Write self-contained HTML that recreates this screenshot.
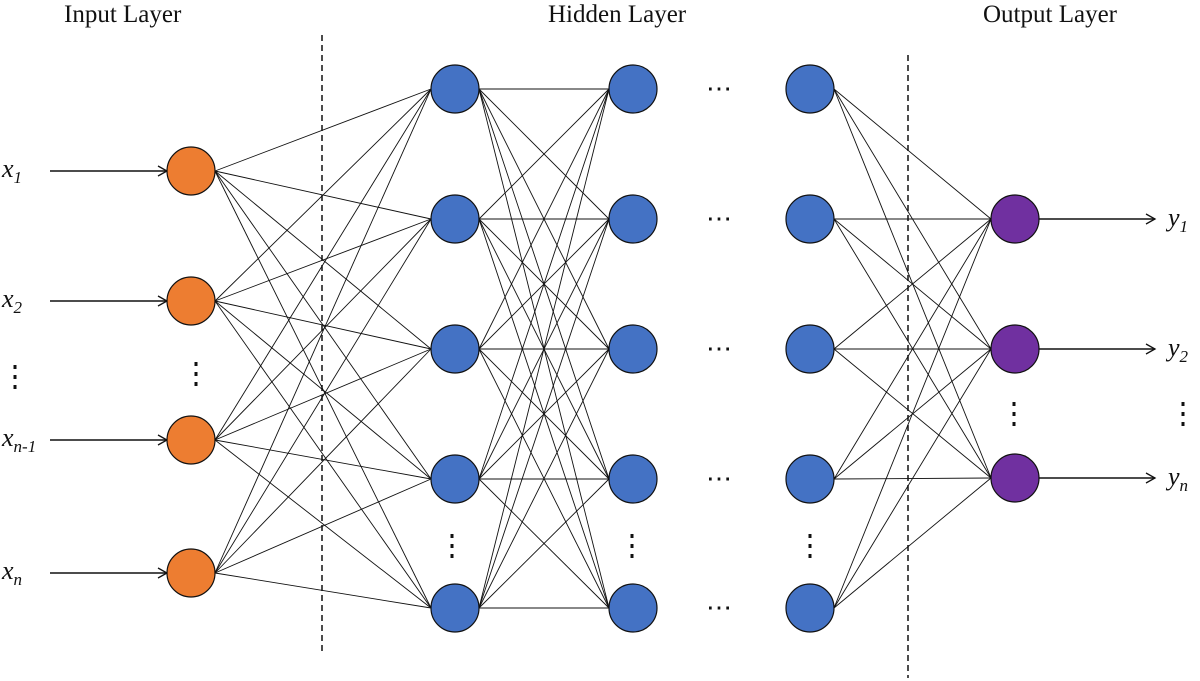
<!DOCTYPE html>
<html><head><meta charset="utf-8"><style>
html,body{margin:0;padding:0;background:#fff;}
svg{display:block;}
text{font-family:"Liberation Serif",serif;fill:#111;}
</style></head><body>
<svg id="s" width="1200" height="681" viewBox="0 0 1200 681" xmlns="http://www.w3.org/2000/svg">
<defs><marker id="ar" markerWidth="12" markerHeight="12" refX="10" refY="6" orient="auto" markerUnits="userSpaceOnUse"><path d="M1,1 L10,6 L1,11" fill="none" stroke="#111" stroke-width="1.3"/></marker></defs>
<g id="lines" stroke="#111" stroke-width="0.9" fill="none"></g>
<line x1="322" y1="35" x2="322" y2="655" stroke="#111" stroke-width="1.5" stroke-dasharray="6,4"/>
<line x1="908" y1="55" x2="908" y2="678" stroke="#111" stroke-width="1.5" stroke-dasharray="6,4"/>
<g id="nodes" stroke="#111" stroke-width="1.2"></g>
<text x="64" y="22" font-size="25">Input Layer</text>
<text x="548" y="22" font-size="25">Hidden Layer</text>
<text x="983" y="22" font-size="25">Output Layer</text>
<g font-style="italic" font-size="26">
<text x="2" y="177">x<tspan font-size="17" dy="6">1</tspan></text>
<text x="2" y="307">x<tspan font-size="17" dy="6">2</tspan></text>
<text x="2" y="446">x<tspan font-size="17" dy="6">n-1</tspan></text>
<text x="2" y="579">x<tspan font-size="17" dy="6">n</tspan></text>
<text x="1168" y="226">y<tspan font-size="17" dy="6">1</tspan></text>
<text x="1168" y="356">y<tspan font-size="17" dy="6">2</tspan></text>
<text x="1168" y="485">y<tspan font-size="17" dy="6">n</tspan></text>
</g>
<g font-size="26">
<text x="706" y="97">⋯</text><text x="706" y="227">⋯</text><text x="706" y="357">⋯</text><text x="706" y="487">⋯</text><text x="706" y="616">⋯</text>
</g>
<g fill="#111" id="dots"></g>
</svg>
<script>
const NS="http://www.w3.org/2000/svg";
const L=document.getElementById('lines'),N=document.getElementById('nodes'),D=document.getElementById('dots');
function ln(x1,y1,x2,y2,m){const e=document.createElementNS(NS,'line');e.setAttribute('x1',x1);e.setAttribute('y1',y1);e.setAttribute('x2',x2);e.setAttribute('y2',y2);if(m){e.setAttribute('marker-end','url(#ar)');e.setAttribute('stroke-width','1.5');}L.appendChild(e);}
function c(x,y,f){const e=document.createElementNS(NS,'circle');e.setAttribute('cx',x);e.setAttribute('cy',y);e.setAttribute('r',24);e.setAttribute('fill',f);N.appendChild(e);}
const r=24;
const inY=[171,301,440,573],hY=[89,219,349,479,608],oY=[219,349,478];
const hx=[455,633,810],ix=191,ox=1015;
inY.forEach(a=>hY.forEach(b=>ln(ix+r,a,hx[0]-r,b)));
hY.forEach(a=>hY.forEach(b=>ln(hx[0]+r,a,hx[1]-r,b)));
hY.forEach(a=>oY.forEach(b=>ln(hx[2]+r,a,ox-r,b)));
inY.forEach(a=>ln(50,a,ix-r,a,1));
oY.forEach(a=>ln(ox+r,a,1155,a,1));
inY.forEach(a=>c(ix,a,'#ED7D31'));
hx.forEach(x=>hY.forEach(y=>c(x,y,'#4472C4')));
oY.forEach(y=>c(ox,y,'#7030A0'));
function dots(x,y){[0,1,2].forEach(i=>{const e=document.createElementNS(NS,'rect');e.setAttribute('x',x-1.5);e.setAttribute('y',y-11+i*10);e.setAttribute('width',3);e.setAttribute('height',4);D.appendChild(e);});}
dots(15,376);dots(196,373);dots(452,545);dots(632,545);dots(810,545);dots(1014,413);dots(1183,413);
</script>
</body></html>
